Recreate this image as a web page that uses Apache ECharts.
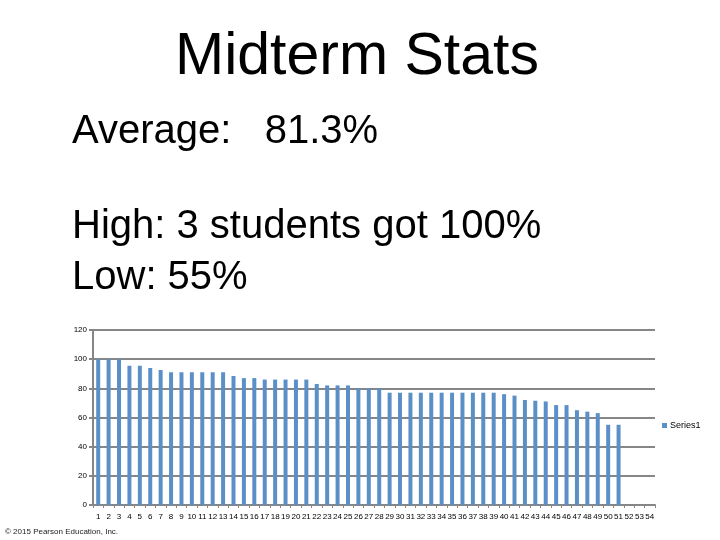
<!DOCTYPE html>
<html>
<head>
<meta charset="utf-8">
<script src="https://cdn.jsdelivr.net/npm/echarts@6/dist/echarts.min.js"></script>
<style>
html,body{margin:0;padding:0;background:#fff;}
#chart{width:720px;height:540px;}
</style>
</head>
<body>
<div id="chart"></div>
<script>
var categories = ['1','2','3','4','5','6','7','8','9','10','11','12','13','14','15','16','17','18','19','20','21','22','23','24','25','26','27','28','29','30','31','32','33','34','35','36','37','38','39','40','41','42','43','44','45','46','47','48','49','50','51','52','53','54'];
var series1 = [100,100,100,95.5,95.5,94,92.5,91,91,91,91,91,91,88.5,87,87,86,86,86,86,86,83,82,82,82,80,80,80,77,77,77,77,77,77,77,77,77,77,77,76,75,72,71.5,71,68.5,68.5,65,64,63,55,55];
var seriesName = 'Series1';
var yTicks = {min: 0, max: 120, interval: 20};
var titleText = 'Midterm Stats';
var bodyLines = ['Average:   81.3%', 'High: 3 students got 100%', 'Low: 55%'];
var footer = '\u00A9 2015 Pearson Education, Inc.';

var chart = echarts.init(document.getElementById('chart'));
var font = '"Liberation Sans", Arial, sans-serif';
function bodyText(str, y) {
  return {type: 'text', x: 72, y: y,
    style: {text: str, font: '40px ' + font, fill: '#000', align: 'left', verticalAlign: 'middle'}};
}
chart.setOption({
  animation: false,
  backgroundColor: '#fff',
  grid: {left: 93, right: 65, top: 330, bottom: 35, containLabel: false},
  legend: {
    data: [seriesName], left: 657, top: 416, icon: 'rect', itemWidth: 5, itemHeight: 5, itemGap: 2,
    textStyle: {fontSize: 9, color: '#000', fontFamily: font, padding: [0, 0, 0, -2]}
  },
  xAxis: {
    type: 'category', data: categories, boundaryGap: true,
    axisLine: {lineStyle: {color: '#868686', width: 2}},
    axisTick: {show: true, interval: 0, length: 3, lineStyle: {color: '#868686', width: 1}},
    axisLabel: {interval: 0, fontSize: 8, color: '#000', fontFamily: font, margin: 8}
  },
  yAxis: {
    type: 'value', min: yTicks.min, max: yTicks.max, interval: yTicks.interval,
    axisLine: {show: true, lineStyle: {color: '#868686', width: 2}},
    axisTick: {show: true, length: 4, lineStyle: {color: '#868686', width: 2}},
    axisLabel: {fontSize: 8, color: '#000', fontFamily: font, margin: 6},
    splitLine: {lineStyle: {color: '#868686', width: 2}}
  },
  series: [{
    name: seriesName, type: 'bar', data: series1, barWidth: 4,
    itemStyle: {color: '#5b8fc8'}
  }],
  graphic: [
    {type: 'text', x: 357, y: 57.5, style: {text: titleText, font: '59px ' + font, fill: '#000', align: 'center', verticalAlign: 'middle'}},
    bodyText(bodyLines[0], 131.5),
    bodyText(bodyLines[1], 226.5),
    bodyText(bodyLines[2], 278),
    {type: 'text', left: 5, top: 528, style: {text: footer, font: '8px ' + font, fill: '#222'}}
  ]
});
</script>
</body>
</html>
